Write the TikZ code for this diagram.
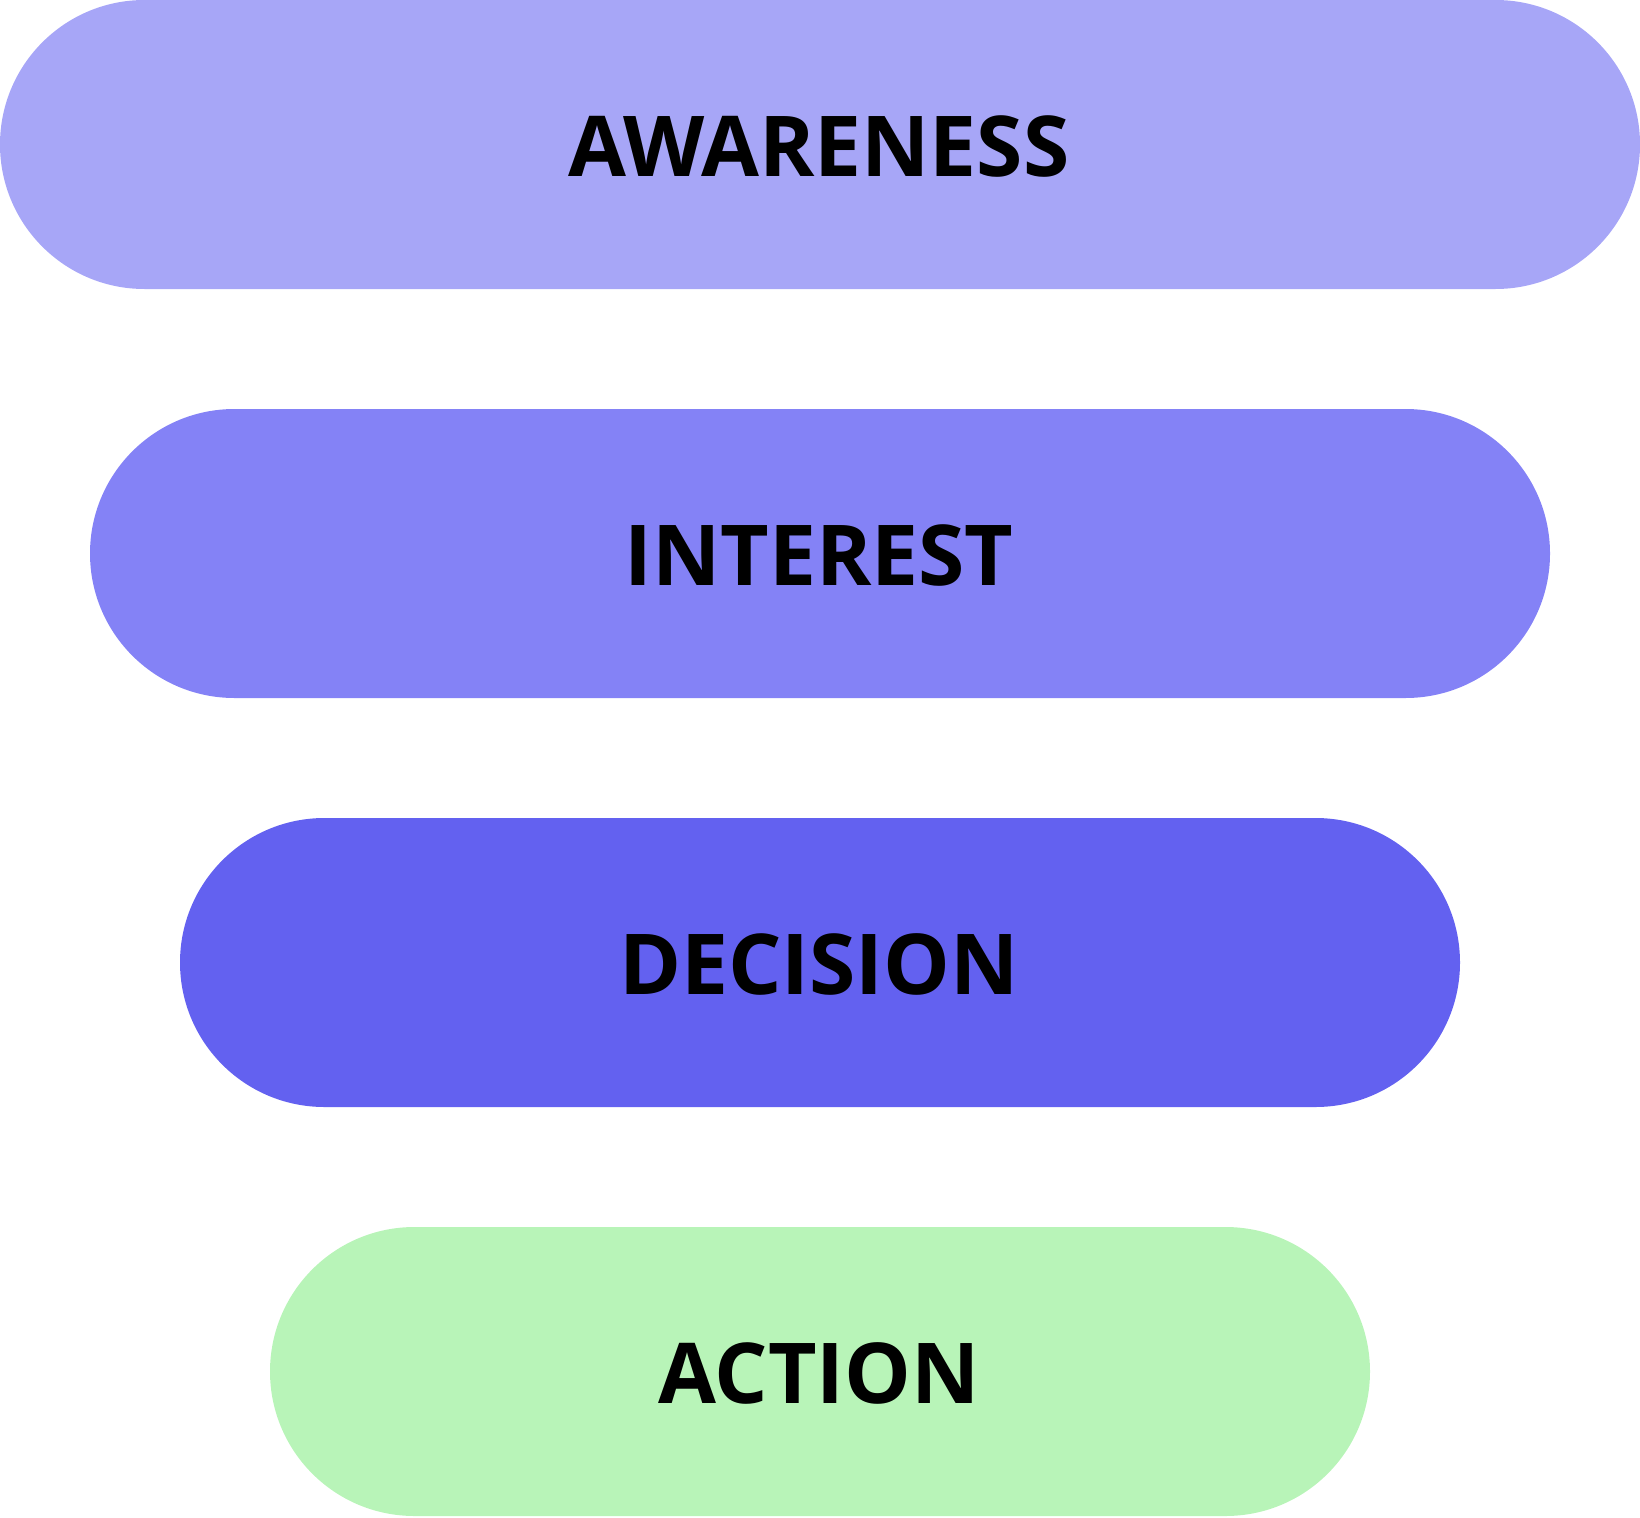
\documentclass[tikz,border=0pt]{standalone}
\usepackage{fontspec}
\setmainfont{Open Sans}
\begin{document}
\begin{tikzpicture}[x=1pt,y=-1pt,
  pill/.style={rounded corners=144.5pt},
  lbl/.style={font=\fontsize{84}{90}\selectfont\bfseries, text=black}]
\useasboundingbox (0,0) rectangle (1640,1517);
\definecolor{c1}{HTML}{A7A6F7}
\definecolor{c2}{HTML}{8482F6}
\definecolor{c3}{HTML}{6361F0}
\definecolor{c4}{HTML}{B8F4B8}
\fill[c1,pill] (0,0) rectangle (1640,289);
\fill[c2,pill] (90,409) rectangle (1550,698);
\fill[c3,pill] (180,818) rectangle (1460,1107);
\fill[c4,pill] (270,1227) rectangle (1370,1516);
\node[lbl] (a) at (819,146) {AWARENESS};
\node[lbl] (b) at (819,555) {INTEREST};
\node[lbl] (c) at (819,964) {DECISION};
\node[lbl] (d) at (819,1373) {ACTION};
\end{tikzpicture}
\end{document}
